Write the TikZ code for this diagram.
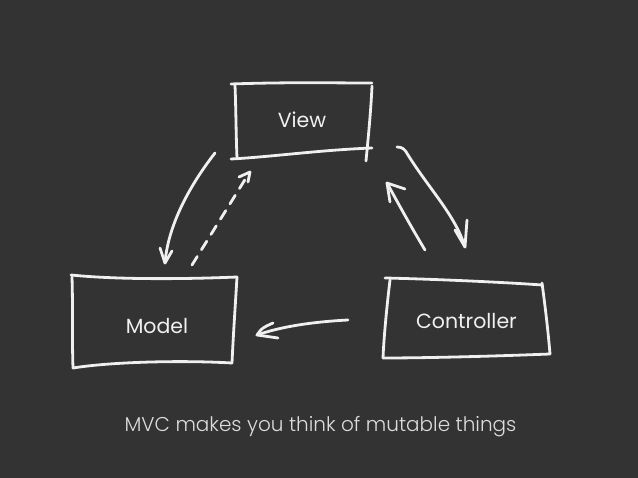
\documentclass[tikz,border=0pt]{standalone}
\usepackage{fontspec}
\setmainfont{Poppins}
\newfontfamily\caplight{Poppins}[UprightFont={* Light}]
\definecolor{bgc}{RGB}{51,51,51}
\definecolor{chalkc}{RGB}{240,240,240}
\definecolor{capc}{RGB}{220,220,220}
\begin{document}
\begin{tikzpicture}[x=1pt,y=-1pt,
  chalk/.style={draw=chalkc, line width=2.8pt, line cap=round, line join=round},
  lbl/.style={text=chalkc, font=\fontsize{20.5}{24}\selectfont, inner sep=0pt},
  captxt/.style={text=capc, font=\caplight\fontsize{20}{23}\selectfont, inner sep=0pt}]
\fill[bgc] (0,0) rectangle (638,478);
\useasboundingbox (0,0) rectangle (638,478);

% labels
\node[lbl] (view) at (302,120) {View};
\node[lbl] (model) at (157,326) {Model};
\node[lbl] (ctrl) at (466.5,321) {Controller};
\node[captxt, anchor=base] (caption) at (320.5,432) {MVC makes you think of mutable things};

% View box
\draw[chalk] (231,84) .. controls (290,82) and (330,83) .. (372,83);
\draw[chalk] (372,86) .. controls (371,110) and (368,140) .. (366,161);
\draw[chalk] (231,159) .. controls (270,157) and (320,150) .. (372,148);
\draw[chalk] (235,85) .. controls (236,110) and (236,135) .. (237,158);

% Model box
\draw[chalk] (71,275) .. controls (120,280) and (190,279) .. (237,277);
\draw[chalk] (72,277) .. controls (73,310) and (72,340) .. (73,368);
\draw[chalk] (73,368) .. controls (110,362) and (180,360) .. (232,363);
\draw[chalk] (237,277) .. controls (235,310) and (233,340) .. (232,363);

% Controller box
\draw[chalk] (385,278) .. controls (430,279) and (500,282) .. (542,285);
\draw[chalk] (542,283) .. controls (545,305) and (548,330) .. (550,354);
\draw[chalk] (383,358) .. controls (430,358) and (500,356) .. (550,354);
\draw[chalk] (390,280) .. controls (387,305) and (384,335) .. (383,358);

% connector end points
\coordinate (vmS) at (215,153);
\coordinate (vmT) at (165,263);
\coordinate (mvS) at (192,265);
\coordinate (mvT) at (250,172);
\coordinate (vcS) at (397,147);
\coordinate (vcT) at (465,247);
\coordinate (cvS) at (425,250);
\coordinate (cvT) at (387,183);
\coordinate (cmS) at (348,320);
\coordinate (cmT) at (257,335);

% View -> Model
\draw[chalk] (vmS) .. controls (190,185) and (168,225) .. (vmT);
\draw[chalk] (160,248) .. controls (162,255) .. (vmT) -- (172,251);

% Model -> View (dashed)
\draw[chalk, dash pattern=on 10pt off 8pt] (mvS) -- (246,178);
\draw[chalk] (239,177) -- (mvT) -- (248,182);

% View -> Controller
\draw[chalk] (vcS) .. controls (402,147) and (405,149) .. (408,155)
  .. controls (430,190) and (455,215) .. (vcT);
\draw[chalk] (455,230) -- (vcT) -- (467,220);

% Controller -> View
\draw[chalk] (cvS) .. controls (410,225) and (398,203) .. (cvT);
\draw[chalk] (405,189) -- (cvT) -- (390,202);

% Controller -> Model
\draw[chalk] (cmS) .. controls (310,322) and (280,327) .. (cmT);
\draw[chalk] (273,323) .. controls (262,328) .. (cmT) -- (278,338);
\end{tikzpicture}
\end{document}
